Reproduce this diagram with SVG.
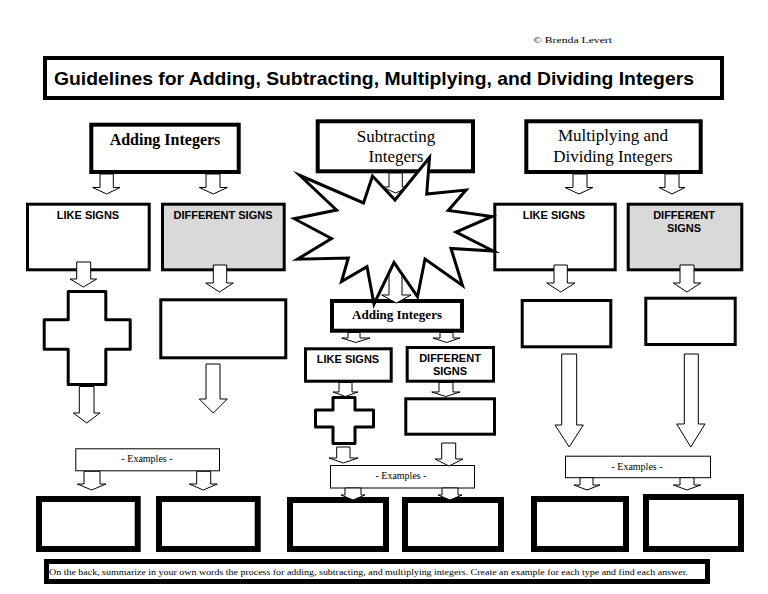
<svg xmlns="http://www.w3.org/2000/svg" width="768" height="594" viewBox="0 0 768 594">
<style>
.bx{fill:#fff;stroke:#000}
.gray{fill:#d9d9d9;stroke:#000;stroke-width:3}
.ar{fill:#fff;stroke:#000;stroke-width:1;stroke-linejoin:miter}
.sans{font-family:"Liberation Sans",Arial,sans-serif;font-weight:bold;fill:#000}
.serif{font-family:"Liberation Serif","Times New Roman",serif;fill:#000}
.sb{font-weight:bold}
.lbl{font-size:11px;text-anchor:middle}
.ex{font-size:10px;text-anchor:middle}
</style>
<rect width="768" height="594" fill="#fff"/>

<g id="copyright"><text class="serif" x="533" y="43" font-size="9" textLength="79" lengthAdjust="spacingAndGlyphs">© Brenda Levert</text></g>

<g id="title">
<rect class="bx" x="45" y="58" width="677" height="40" stroke-width="4"/>
<text class="sans" x="54" y="84.5" font-size="19" textLength="640" lengthAdjust="spacingAndGlyphs">Guidelines for Adding, Subtracting, Multiplying, and Dividing Integers</text>
</g>

<!-- LEFT COLUMN -->
<g id="adding">
<rect class="bx" x="91.3" y="124.7" width="147.4" height="47.3" stroke-width="4"/>
<text class="serif sb" x="165" y="145" font-size="16" text-anchor="middle">Adding Integers</text>
</g>
<g id="add-like">
<rect class="bx" x="27.5" y="204.2" width="121.7" height="65.6" stroke-width="3"/>
<text class="sans lbl" x="88" y="219">LIKE SIGNS</text>
</g>
<g id="add-diff">
<rect class="gray" x="162.5" y="204.2" width="121.7" height="65.6"/>
<text class="sans lbl" x="223" y="219">DIFFERENT SIGNS</text>
</g>
<g id="add-cross">
<path class="bx" stroke-width="3" stroke-linejoin="round" d="M68.2,291.5 H105.8 V319.8 H130.2 V349.2 H105.8 V384.5 H68.2 V349.2 H44.2 V319.8 H68.2 Z"/>
</g>
<g id="add-rect">
<rect class="bx" x="160.8" y="299.8" width="125" height="58" stroke-width="3"/>
</g>
<g id="add-examples">
<rect class="bx" x="75.8" y="448.8" width="143.7" height="22" stroke-width="1"/>
<text class="serif ex" x="147" y="462">- Examples -</text>
</g>
<g id="ex1"><rect class="bx" x="39" y="499" width="98.7" height="50" stroke-width="6"/></g>
<g id="ex2"><rect class="bx" x="159" y="499" width="98.7" height="50" stroke-width="6"/></g>

<!-- MIDDLE COLUMN -->
<g id="subtracting">
<rect class="bx" x="317.7" y="121.3" width="155.3" height="50" stroke-width="4"/>
<text class="serif" x="396" y="141.5" font-size="17" text-anchor="middle">Subtracting</text>
<text class="serif" x="396" y="161.5" font-size="17" text-anchor="middle">Integers</text>
</g>
<g id="sub-adding">
<rect class="bx" x="332" y="301" width="130" height="29.7" stroke-width="4"/>
<text class="serif sb" x="397" y="318.5" font-size="13" text-anchor="middle">Adding Integers</text>
</g>
<g id="sub-like">
<rect class="bx" x="305.5" y="348.8" width="85.7" height="32.4" stroke-width="3"/>
<text class="sans lbl" x="348" y="362.7">LIKE SIGNS</text>
</g>
<g id="sub-diff">
<rect class="bx" x="407.2" y="347.5" width="86.3" height="33.7" stroke-width="3"/>
<text class="sans lbl" x="450" y="361.7">DIFFERENT</text>
<text class="sans lbl" x="450" y="375">SIGNS</text>
</g>
<g id="sub-cross">
<path class="bx" stroke-width="3" stroke-linejoin="round" d="M333,397.5 H355 V410 H373.5 V427 H355 V443.5 H333 V427 H315.5 V410 H333 Z"/>
</g>
<g id="sub-rect">
<rect class="bx" x="405.8" y="398.8" width="88.7" height="35.4" stroke-width="3"/>
</g>
<g id="sub-examples">
<rect class="bx" x="330.5" y="465.5" width="144" height="22.5" stroke-width="1"/>
<text class="serif ex" x="401" y="479">- Examples -</text>
</g>
<g id="ex3"><rect class="bx" x="290" y="500" width="96" height="49" stroke-width="6"/></g>
<g id="ex4"><rect class="bx" x="405" y="500" width="96" height="49" stroke-width="6"/></g>

<!-- RIGHT COLUMN -->
<g id="multiplying">
<rect class="bx" x="526.3" y="121.3" width="174.4" height="50.7" stroke-width="4"/>
<text class="serif" x="613" y="141" font-size="17" text-anchor="middle">Multiplying and</text>
<text class="serif" x="613" y="162" font-size="17" text-anchor="middle">Dividing Integers</text>
</g>
<g id="mul-like">
<rect class="bx" x="494.8" y="204.2" width="120.4" height="65.6" stroke-width="3"/>
<text class="sans lbl" x="554" y="219">LIKE SIGNS</text>
</g>
<g id="mul-diff">
<rect class="gray" x="628.2" y="204.2" width="113.6" height="65.6"/>
<text class="sans lbl" x="684" y="219">DIFFERENT</text>
<text class="sans lbl" x="684" y="232">SIGNS</text>
</g>
<g id="mul-rect1"><rect class="bx" x="522.2" y="300.5" width="88.6" height="46.3" stroke-width="3"/></g>
<g id="mul-rect2"><rect class="bx" x="645.8" y="298.2" width="89.4" height="46.3" stroke-width="3"/></g>
<g id="mul-examples">
<rect class="bx" x="565.5" y="456.2" width="145" height="21.5" stroke-width="1"/>
<text class="serif ex" x="637" y="469.5">- Examples -</text>
</g>
<g id="ex5"><rect class="bx" x="534" y="499" width="92" height="50" stroke-width="6"/></g>
<g id="ex6"><rect class="bx" x="646" y="497" width="95" height="52" stroke-width="6"/></g>

<g id="instructions">
<rect class="bx" x="46.5" y="561.5" width="661" height="20" stroke-width="5"/>
<text class="serif" x="49" y="575" font-size="9" textLength="639" lengthAdjust="spacingAndGlyphs">On the back, summarize in your own words the process for adding, subtracting, and multiplying integers.  Create an example for each type and find each answer.</text>
</g>

<g id="connectors">
<!-- left -->
<path class="ar" d="M100,174 H113.3 V187.5 H120 L106.7,194 L92.7,187.5 H100 Z"/>
<path class="ar" d="M206,174 H220 V187.5 H227.3 L213.3,194 L199.3,187.5 H206 Z"/>
<path class="ar" d="M76.7,262 H90.7 V279 H96.7 L83.4,287 L70,279 H76.7 Z"/>
<path class="ar" d="M213.3,265 H226.7 V283 H233.3 L219.5,292 L205.7,283 H213.3 Z"/>
<path class="ar" d="M79.3,386.5 H94 V413 H100 L86.7,423 L73.3,413 H79.3 Z"/>
<path class="ar" d="M206,364 H220 V399 H227.3 L213.3,413 L199.3,399 H206 Z"/>
<path class="ar" d="M84,471.3 H100 V484 H106 L91.7,490 L77.3,484 H84 Z"/>
<path class="ar" d="M196.7,471.3 H210.7 V484 H217.3 L203.3,490 L189.3,484 H196.7 Z"/>
<!-- middle -->
<path class="ar" d="M389,173 H402.3 V187 H409 L395.7,193 L382,187 H389 Z"/>
<path class="ar" d="M389,262 H402 V295 H411 L396.3,303 L381.7,295 H389 Z"/>
<path class="ar" d="M348,332.5 H360 V338 H370 L355.8,342.5 L341.7,338 H348 Z"/>
<path class="ar" d="M440,332.5 H453 V338 H460 L446.5,342.5 L433,338 H440 Z"/>
<path class="ar" d="M339,382.5 H352 V392 H358 L345.5,396.5 L333,392 H339 Z"/>
<path class="ar" d="M439,382.5 H453 V392 H460 L445.8,396.5 L431.7,392 H439 Z"/>
<path class="ar" d="M336.7,447 H350 V458 H358 L343.5,463 L329,458 H336.7 Z"/>
<path class="ar" d="M441.7,443 H455.7 V459 H463 L449,466 L435,459 H441.7 Z"/>
<path class="ar" d="M345,488 H361 V495 H365 L353,500 L341,495 H345 Z"/>
<path class="ar" d="M442,488 H458 V495 H462 L450,500 L438,495 H442 Z"/>
<!-- right -->
<path class="ar" d="M573,174 H587 V187.5 H593 L579,194 L565,187.5 H573 Z"/>
<path class="ar" d="M665,174 H679 V187.5 H685 L672,194 L659,187.5 H665 Z"/>
<path class="ar" d="M554,265 H567.3 V283 H575 L560.8,292 L546.7,283 H554 Z"/>
<path class="ar" d="M680,265 H694 V283 H700.7 L687,292 L673.3,283 H680 Z"/>
<path class="ar" d="M561.7,354 H576.7 V425 H583.3 L569.2,447 L555,425 H561.7 Z"/>
<path class="ar" d="M684.3,354 H698.3 V424 H705 L690.8,447 L676.7,424 H684.3 Z"/>
<path class="ar" d="M580,477.7 H593 V485 H600 L587,490 L574,485 H580 Z"/>
<path class="ar" d="M680,477.7 H694 V485 H700.7 L687,490 L673.3,485 H680 Z"/>
</g>

<g id="starburst">
<path fill="#fff" stroke="#000" stroke-width="3" stroke-linejoin="miter" stroke-miterlimit="20" d="M300,175.5 L363.5,203 L372.5,176 L395,200 L429.5,157.5 L426.7,194 L466,190 L448.3,210.5 L492,216.5 L456,232 L493.3,251 L451,248.5 L462.5,285.5 L425,259 L417.5,296.7 L394,262.5 L374,304 L367,266.7 L341.5,281.5 L348.3,258 L297.5,259.2 L331.5,238.5 L294.3,218.7 L336.5,210 Z"/>
</g>
</svg>
